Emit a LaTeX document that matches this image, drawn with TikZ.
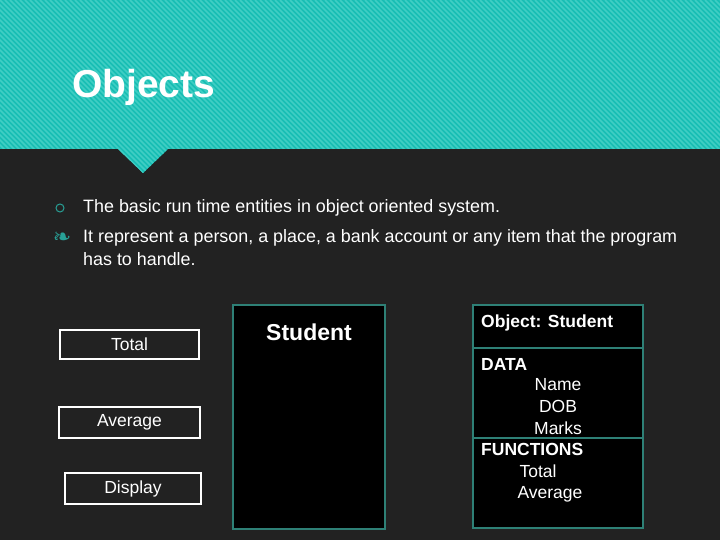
\documentclass[tikz,border=0pt]{standalone}
\usepackage{fontspec}
\setmainfont{Liberation Sans}
\newfontfamily\symfont{DejaVu Sans}
\definecolor{bgdark}{RGB}{34,34,34}
\definecolor{tealhead}{RGB}{24,190,180}
\definecolor{tealstripe}{RGB}{64,206,196}
\definecolor{tealedge}{RGB}{46,128,118}
\definecolor{tealbullet}{RGB}{40,160,150}
\begin{document}
\begin{tikzpicture}[x=1pt, y=-1pt,
    txt/.style={text=white, inner sep=0pt, font=\fontsize{17.5}{20}\selectfont},
    bodytxt/.style={txt, anchor=base west, font=\fontsize{17.9}{20}\selectfont},
    boldtxt/.style={txt, anchor=base west, font=\fontsize{17.5}{20}\selectfont\bfseries},
    itemtxt/.style={txt, anchor=base},
    opbox/.style={draw=white, line width=2.8pt, fill=bgdark, text=white,
      font=\fontsize{17.5}{20}\selectfont, inner sep=0pt},
    classbox/.style={draw=tealedge, line width=2pt, fill=black}]
    \useasboundingbox (0,0) rectangle (720,540);
    \fill[bgdark] (0,0) rectangle (720,540);

    % header with notch
    \fill[tealhead] (0,0) -- (720,0) -- (720,149) -- (168,149) -- (143,173) -- (118,149) -- (0,149) -- cycle;
    \begin{scope}
      \clip (0,0) -- (720,0) -- (720,149) -- (168,149) -- (143,173) -- (118,149) -- (0,149) -- cycle;
      \foreach \i in {-200,-195,...,720}
        \draw[tealstripe, line width=1.6pt] (\i,0) -- (\i+200,200);
    \end{scope}
    \node[txt, anchor=base west, font=\fontsize{39}{44}\selectfont\bfseries] (title) at (72,98) {Objects};

    % bullets
    \draw[tealbullet, line width=1pt] (60,208) circle (4);
    \node[bodytxt] (line1) at (83,212) {The basic run time entities in object oriented system.};
    \node[text=tealbullet, inner sep=0pt, font=\symfont\fontsize{22}{24}\selectfont] (hand) at (62,238) {❧};
    \node[bodytxt] (line2) at (83,243) {It represent a person, a place, a bank account or any item that the program};
    \node[bodytxt] (line3) at (83,265) {has to handle.};

    % operation boxes
    \node[opbox, minimum width=139, minimum height=29] (total) at (129.5,344.5) {Total};
    \node[opbox, minimum width=141, minimum height=31] (average) at (129.5,422.5) {Average};
    \node[opbox, minimum width=136, minimum height=31] (display) at (133,488.5) {Display};

    % class box
    \draw[classbox] (233,305) rectangle (385,529);
    \node[itemtxt, font=\fontsize{23}{26}\selectfont\bfseries] (student) at (309,340) {Student};

    % object box
    \draw[classbox] (473,305) rectangle (643,528);
    \draw[tealedge, line width=1.2pt] (473,348) -- (643,348);
    \draw[tealedge, line width=1.2pt] (473,438) -- (643,438);
    \node[boldtxt] (objname) at (481,327) {Object: Student};
    \node[boldtxt] (data) at (481,370) {DATA};
    \node[itemtxt] (name) at (558,390.7) {Name};
    \node[itemtxt] (dob) at (558,412.7) {DOB};
    \node[itemtxt] (marks) at (558,434) {Marks};
    \node[boldtxt] (functions) at (481,455.7) {FUNCTIONS};
    \node[itemtxt] (ftotal) at (538,477.3) {Total};
    \node[itemtxt] (faverage) at (550,498.3) {Average};
\end{tikzpicture}
\end{document}
